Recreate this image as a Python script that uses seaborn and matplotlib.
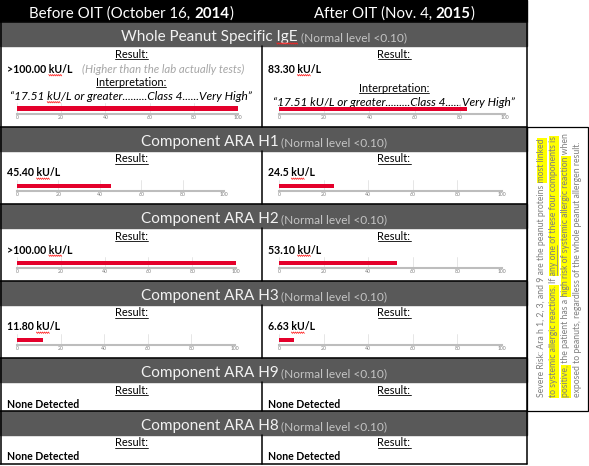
import matplotlib
matplotlib.use('Agg')
import matplotlib.pyplot as plt
import seaborn as sns
import pandas as pd
import numpy as np
from matplotlib.font_manager import FontProperties
from matplotlib.patches import Rectangle

sns.set_theme(style='white')
FONT = 'Lato'
plt.rcParams['font.family'] = [FONT, 'DejaVu Sans']

# ---------------- data ----------------
tests = ["Whole Peanut Specific IgE", "Component ARA H1", "Component ARA H2",
         "Component ARA H3", "Component ARA H9", "Component ARA H8"]
normal_note = "(Normal level <0.10)"
before_values = [100.0, 45.40, 100.0, 11.80, None, None]
after_values = [83.30, 24.5, 53.10, 6.63, None, None]
before_labels = [">100.00 kU/L", "45.40 kU/L", ">100.00 kU/L", "11.80 kU/L",
                 "None Detected", "None Detected"]
after_labels = ["83.30 kU/L", "24.5 kU/L", "53.10 kU/L", "6.63 kU/L",
                "None Detected", "None Detected"]
axis_ticks = [0, 20, 40, 60, 80, 100]
header_before = ["Before OIT (October 16, ", "2014", ")"]
header_after = ["After OIT (Nov. 4, ", "2015", ")"]
result_title = "Result:"
interp_title = "Interpretation:"
interp_text = "\u201c17.51 kU/L or greater.........Class 4......Very High\u201d"
lab_note = "(Higher than the lab actually tests)"
sidebar_lines = [
    "Severe Risk: Ara h 1, 2, 3, and 9 are the peanut proteins most linked",
    "to systemic allergic reactions. If any one of these four components is",
    "positive, the patient has a high risk of systemic allergic reaction when",
    "exposed to peanuts, regardless of the whole peanut allergen result.",
]
sidebar_highlights = [["most linked"],
                      ["to systemic allergic reactions.", "any one of these four components is"],
                      ["positive,", "high risk of systemic allergic reaction"],
                      []]
sidebar_underline = [[], ["any one"], [], []]

# ---------------- layout (pixels) ----------------
W, H = 589, 466
RED = '#e4002b'
GRAY_BAR = '#595959'
TABLE_R = 527
COL_SPLIT = 262
gray_tops = [22, 127, 204, 281, 358, 411]
row_bottoms = [127, 204, 281, 358, 411, 464]
left_x1 = [238, 224, 236, 235]
right_x1 = [505, 502, 502, 502]
LEFT_X0, RIGHT_X0 = 17, 279
LEFT_TXT, RIGHT_TXT = 7, 268
LEFT_C, RIGHT_C = 131, 394

fig = plt.figure(figsize=(W / 100, H / 100), dpi=100)
fig.patch.set_facecolor('white')
ax = fig.add_axes([0, 0, 1, 1])
ax.set_xlim(0, W)
ax.set_ylim(H, 0)
ax.axis('off')
r = fig.canvas.get_renderer()


def fp(size, weight='normal', style='normal'):
    return FontProperties(family=FONT, size=size, weight=weight, style=style)


def ink(s, prop):
    return r.get_text_width_height_descent(s, prop, ismath=False)[0]


def adv(s, prop):
    if not s:
        return 0.0
    return ink(s + "|", prop) - ink("|", prop)


def fit(s, target, weight='normal', style='normal'):
    return 10.0 * target / ink(s, fp(10, weight, style))


hdr_size = fit("Before OIT (October 16, 2014)", 205)
title_size = fit("Component ARA H1", 138)
note_size = fit(normal_note, 106)
bold_size = fit(">100.00 kU/L", 66, weight='bold')
body_size = fit(interp_title, 70)
quote_size = fit(interp_text, 243, style='italic')
lab_size = fit(lab_note, 162, style='italic')
side_size = fit(sidebar_lines[0], 258)


def txt(x, y, s, size, weight='normal', style='normal', color='black', ha='left',
        va='baseline', **kw):
    return ax.text(x, y, s, fontsize=size, fontweight=weight, fontstyle=style,
                   color=color, ha=ha, va=va, family=[FONT, 'DejaVu Sans'],
                   zorder=kw.pop('zorder', 5), **kw)


def squiggle(xa, xb, y):
    xs = np.arange(xa, xb + 0.01, 1.0)
    ys = y + 0.7 * np.where(np.arange(len(xs)) % 2 == 0, -1, 1)
    ax.plot(xs, ys, color='#ff2020', lw=0.55, zorder=6)


def parts_text(parts, cx, y):
    """parts: list of (text, size, weight, style, color)"""
    widths = [adv(p[0], fp(p[1], p[2], p[3])) for p in parts]
    x = cx - sum(widths) / 2
    starts = []
    for p, w in zip(parts, widths):
        txt(x, y, p[0], p[1], weight=p[2], style=p[3], color=p[4])
        starts.append(x)
        x += w
    return starts


def underlined(cx, y, s, size):
    w = ink(s, fp(size))
    txt(cx, y, s, size, ha='center')
    ax.plot([cx - w / 2, cx + w / 2], [y + 1.4, y + 1.4], color='black', lw=0.6,
            zorder=5)


def kU_squiggle(x0, y, s, prop):
    i = s.find('kU')
    if i >= 0:
        xa = x0 + adv(s[:i], prop)
        xb = x0 + adv(s[:i + 2], prop)
        squiggle(xa, xb, y + 2.2)


# header
ax.add_patch(Rectangle((0, 0), TABLE_R, 22, color='black', zorder=1))
for parts, cx in ((header_before, LEFT_C), (header_after, RIGHT_C)):
    parts_text([(parts[0], hdr_size, 'normal', 'normal', 'white'),
                (parts[1], hdr_size, 'bold', 'normal', 'white'),
                (parts[2], hdr_size, 'normal', 'normal', 'white')], cx, 17.5)

# gray bars with titles
for i, t in enumerate(tests):
    top = gray_tops[i]
    ax.add_patch(Rectangle((0, top), TABLE_R, 24, color=GRAY_BAR, zorder=1))
    st = parts_text([(t, title_size, 'normal', 'normal', '#f2f2f2'),
                     (" " + normal_note, note_size, 'normal', 'normal', '#c4c4c4')],
                    264, top + 19)
    if 'IgE' in t:
        p = fp(title_size)
        k = t.find('IgE')
        squiggle(st[0] + adv(t[:k], p), st[0] + adv(t, p), top + 21.5)

# table lines
lw = 1.1
for y in [0.5] + gray_tops + [row_bottoms[-1]]:
    ax.plot([0, TABLE_R], [y, y], color='black', lw=lw, zorder=3)
ax.plot([0.7, 0.7], [0, row_bottoms[-1]], color='black', lw=lw, zorder=3)
ax.plot([TABLE_R, TABLE_R], [0, row_bottoms[-1]], color='black', lw=lw, zorder=3)
for i in range(len(tests)):
    ct = gray_tops[i] + 24
    ax.plot([COL_SPLIT, COL_SPLIT], [ct, row_bottoms[i]], color='black', lw=lw, zorder=3)

# cell contents
bprop = fp(bold_size, 'bold')
qp = fp(quote_size, style='italic')
qw = ink(interp_text, qp)
# whole peanut row, before column
underlined(LEFT_C, 58, result_title, body_size)
txt(LEFT_TXT, 73, before_labels[0], bold_size, weight='bold')
kU_squiggle(LEFT_TXT, 73, before_labels[0], bprop)
txt(LEFT_TXT + adv(before_labels[0], bprop) + 9, 73, lab_note, lab_size,
    style='italic', color='#a6a6a6')
underlined(LEFT_C, 86, interp_title, body_size)
txt(LEFT_C, 100, interp_text, quote_size, style='italic', ha='center')
kU_squiggle(LEFT_C - qw / 2, 100, interp_text, qp)
# whole peanut row, after column
underlined(RIGHT_C, 58, result_title, body_size)
txt(RIGHT_TXT, 73, after_labels[0], bold_size, weight='bold')
kU_squiggle(RIGHT_TXT, 73, after_labels[0], bprop)
underlined(RIGHT_C, 91.5, interp_title, body_size)
txt(RIGHT_C, 106, interp_text, quote_size, style='italic', ha='center')
kU_squiggle(RIGHT_C - qw / 2, 106, interp_text, qp)

for i in range(1, len(tests)):
    ct = gray_tops[i] + 24
    for side in (0, 1):
        cx = LEFT_C if side == 0 else RIGHT_C
        tx = LEFT_TXT if side == 0 else RIGHT_TXT
        lab = before_labels[i] if side == 0 else after_labels[i]
        underlined(cx, ct + 11.5, result_title, body_size)
        txt(tx, ct + 25.5, lab, bold_size, weight='bold')
        kU_squiggle(tx, ct + 25.5, lab, bprop)

# bar charts
for i in range(4):
    ct = gray_tops[i] + 24
    if i == 0:
        geo = [(106, 111, 114), (107, 111.5, 114)]
    else:
        geo = [(ct + 32.7, ct + 37.3, ct + 40)] * 2
    for side in (0, 1):
        val = before_values[i] if side == 0 else after_values[i]
        x0 = LEFT_X0 if side == 0 else RIGHT_X0
        x1 = left_x1[i] if side == 0 else right_x1[i]
        btop, bbot, axy = geo[side]
        top_pad = 3.5
        atop = btop - top_pad
        iax = fig.add_axes([x0 / W, 1 - axy / H, (x1 - x0) / W, (axy - atop) / H])
        df = pd.DataFrame({'test': [tests[i]], 'value': [val]})
        sns.barplot(data=df, x='value', y='test', orient='h', color=RED,
                    saturation=1, width=1.0, linewidth=0, ax=iax)
        bh = bbot - btop
        iax.set_xlim(0, 100)
        iax.set_ylim(0.5 + (axy - bbot) / bh, -0.5 - top_pad / bh)
        iax.set_xticks(axis_ticks)
        iax.set_xticklabels([str(t) for t in axis_ticks])
        iax.set_yticks([])
        iax.set_xlabel('')
        iax.set_ylabel('')
        iax.patch.set_alpha(0)
        for s in ('top', 'left', 'right'):
            iax.spines[s].set_visible(False)
        iax.spines['bottom'].set_color('#bdbdbd')
        iax.spines['bottom'].set_linewidth(1.5)
        iax.grid(axis='x', color='#e2e2e2', lw=0.6)
        iax.set_axisbelow(True)
        iax.tick_params(axis='x', length=0, pad=1.0, labelsize=3.7,
                        labelcolor='#808080')
        for lbl in iax.get_xticklabels():
            lbl.set_family([FONT, 'DejaVu Sans'])

# sidebar box
ax.add_patch(Rectangle((TABLE_R, 127), 588 - TABLE_R, 411 - 127, fill=False,
                       edgecolor='black', lw=0.9, zorder=3))
sp = fp(side_size)
line_x = [542, 554, 566, 578]
y_start = 397
for li, line in enumerate(sidebar_lines):
    xl = line_x[li]
    txt(xl, y_start, line, side_size, color='#7f7f7f', ha='left', va='center',
        rotation=90, rotation_mode='anchor')
    for ph in sidebar_highlights[li]:
        k = line.find(ph)
        a = adv(line[:k], sp)
        b = adv(line[:k + len(ph)], sp)
        ax.add_patch(Rectangle((xl - 5, y_start - b - 0.5), 9.5, b - a + 1,
                               color='#ffff00', zorder=2, lw=0))
    for ph in sidebar_underline[li]:
        k = line.find(ph)
        a = adv(line[:k], sp)
        b = adv(line[:k + len(ph)], sp)
        ax.plot([xl + 3.3, xl + 3.3], [y_start - a, y_start - b], color='#7f7f7f',
                lw=0.5, zorder=5)

fig.savefig('out.png', dpi=100, facecolor='white')
